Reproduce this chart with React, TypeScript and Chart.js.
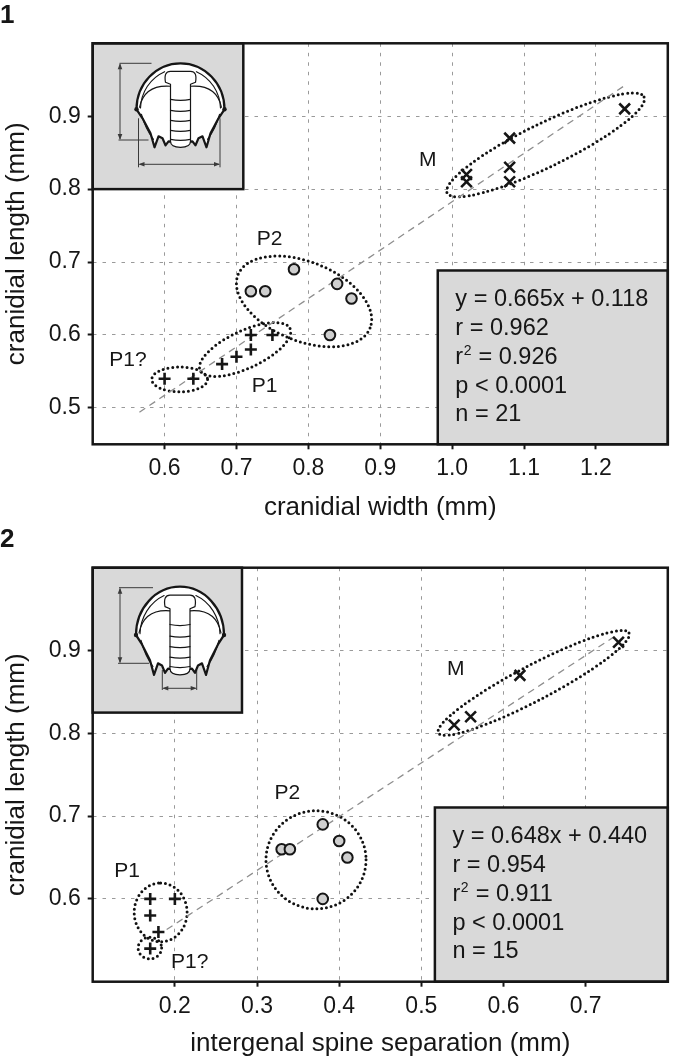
import React, { useEffect, useRef } from "react";
import { Chart, registerables } from "chart.js";

Chart.register(...registerables);

const FONT = "'Liberation Sans', Arial, Helvetica, sans-serif";
const INK = "#161616";
const GRID = "#9a9a9a";
const BOX_FILL = "#d9d9d9";

// ---------------- Panel 1 : cranidial width vs cranidial length ----------------
const p1qWidth1 = [0.6, 0.64];
const p1qLength1 = [0.54, 0.54];
const p1Width1 = [0.68, 0.7, 0.72, 0.72, 0.75];
const p1Length1 = [0.56, 0.57, 0.58, 0.6, 0.6];
const p2Width1 = [0.72, 0.74, 0.78, 0.84, 0.86, 0.83];
const p2Length1 = [0.66, 0.66, 0.69, 0.67, 0.65, 0.6];
const mWidth1 = [1.02, 1.02, 1.08, 1.08, 1.08, 1.24];
const mLength1 = [0.82, 0.81, 0.87, 0.83, 0.81, 0.91];
const fitX1 = [0.565, 1.243];
const fitY1 = [0.494, 0.944];
const xTicks1 = [0.6, 0.7, 0.8, 0.9, 1.0, 1.1, 1.2];
const yTicks1 = [0.5, 0.6, 0.7, 0.8, 0.9];
const stats1 = ["y = 0.665x + 0.118", "r = 0.962", "r² = 0.926", "p < 0.0001", "n = 21"];
const labelNames1 = ["M", "P2", "P1?", "P1"];
const labelX1 = [0.966, 0.746, 0.549, 0.739];
const labelY1 = [0.839, 0.731, 0.566, 0.529];

// ---------------- Panel 2 : intergenal spine separation vs cranidial length ----------------
const p1Sep2 = [0.17, 0.2, 0.17, 0.18];
const p1Length2 = [0.6, 0.6, 0.58, 0.56];
const p1qSep2 = [0.17];
const p1qLength2 = [0.54];
const p2Sep2 = [0.33, 0.34, 0.38, 0.4, 0.41, 0.38];
const p2Length2 = [0.66, 0.66, 0.69, 0.67, 0.65, 0.6];
const mSep2 = [0.54, 0.56, 0.62, 0.74];
const mLength2 = [0.81, 0.82, 0.87, 0.91];
const fitX2 = [0.19, 0.74];
const fitY2 = [0.563, 0.92];
const xTicks2 = [0.2, 0.3, 0.4, 0.5, 0.6, 0.7];
const yTicks2 = [0.6, 0.7, 0.8, 0.9];
const stats2 = ["y = 0.648x + 0.440", "r = 0.954", "r² = 0.911", "p < 0.0001", "n = 15"];
const labelNames2 = ["M", "P2", "P1", "P1?"];
const labelX2 = [0.542, 0.337, 0.142, 0.218];
const labelY2 = [0.877, 0.728, 0.634, 0.524];

type Style = "plus" | "x" | "circle";
type Group = { xs: number[]; ys: number[]; style: Style };
type Ell = { cx: number; cy: number; a: number; b: number; ang: number };
type Arrows = {
  vx: number; vy0: number; vy1: number;
  vExt: number[][]; // [x0, x1, y]
  hy: number; hx0: number; hx1: number;
  hExtY0: number; hExtY1: number;
};
type Panel = {
  number: string;
  xTitle: string;
  yTitle: string;
  xMin: number; xMax: number; yMin: number; yMax: number;
  xTicks: number[]; yTicks: number[];
  groups: Group[];
  fitX: number[]; fitY: number[];
  ellipses: Ell[];
  labels: { names: string[]; xs: number[]; ys: number[] };
  stats: string[];
  inset: { xRight: number; yBottom: number; cx: number; top: number; sy: number; arrows: Arrows };
  statsBox: { xLeft: number; yTop: number };
  layout: { height: number; top: number; right: number; yWidth: number; xHeight: number; xTitlePad: number; numY: number };
};

const panel1: Panel = {
  number: "1",
  xTitle: "cranidial width (mm)",
  yTitle: "cranidial length (mm)",
  xMin: 0.5, xMax: 1.3, yMin: 0.45, yMax: 1.0,
  xTicks: xTicks1, yTicks: yTicks1,
  groups: [
    { xs: p1qWidth1, ys: p1qLength1, style: "plus" },
    { xs: p1Width1, ys: p1Length1, style: "plus" },
    { xs: p2Width1, ys: p2Length1, style: "circle" },
    { xs: mWidth1, ys: mLength1, style: "x" },
  ],
  fitX: fitX1, fitY: fitY1,
  ellipses: [
    { cx: 0.621, cy: 0.539, a: 0.0388, b: 0.0172, ang: 0 },
    { cx: 0.712, cy: 0.58, a: 0.069, b: 0.026, ang: 25 },
    { cx: 0.794, cy: 0.646, a: 0.099, b: 0.055, ang: -22 },
    { cx: 1.13, cy: 0.8606, a: 0.1524, b: 0.0303, ang: 26 },
  ],
  labels: { names: labelNames1, xs: labelX1, ys: labelY1 },
  stats: stats1,
  inset: {
    xRight: 0.7095, yBottom: 0.8, cx: 87.8, top: 20, sy: 1.0,
    arrows: {
      vx: -60.5, vy0: 0, vy1: 76.7,
      vExt: [[-61, -29, 0], [-62, -32, 76.7]],
      hy: 101, hx0: -42, hx1: 39.5,
      hExtY0: 55, hExtY1: 104,
    },
  },
  statsBox: { xLeft: 0.98, yTop: 0.6884 },
  layout: { height: 524, top: 43.3, right: 2.7, yWidth: 92.7, xHeight: 79.7, xTitlePad: 0.1, numY: 23 },
};

const panel2: Panel = {
  number: "2",
  xTitle: "intergenal spine separation (mm)",
  yTitle: "cranidial length (mm)",
  xMin: 0.1, xMax: 0.8, yMin: 0.5, yMax: 1.0,
  xTicks: xTicks2, yTicks: yTicks2,
  groups: [
    { xs: p1Sep2, ys: p1Length2, style: "plus" },
    { xs: p1qSep2, ys: p1qLength2, style: "plus" },
    { xs: p2Sep2, ys: p2Length2, style: "circle" },
    { xs: mSep2, ys: mLength2, style: "x" },
  ],
  fitX: fitX2, fitY: fitY2,
  ellipses: [
    { cx: 0.1827, cy: 0.5837, a: 0.0358, b: 0.0322, ang: 90 },
    { cx: 0.1696, cy: 0.5407, a: 0.0143, b: 0.0131, ang: 0 },
    { cx: 0.3718, cy: 0.6472, a: 0.0609, b: 0.0597, ang: 0 },
    { cx: 0.6368, cy: 0.8608, a: 0.131, b: 0.0215, ang: 27.7 },
  ],
  labels: { names: labelNames2, xs: labelX2, ys: labelY2 },
  stats: stats2,
  inset: {
    xRight: 0.2817, yBottom: 0.825, cx: 87.3, top: 19, sy: 1.05,
    arrows: {
      vx: -60, vy0: 1, vy1: 76.6,
      vExt: [[-61, -27, 1], [-62, -31, 76.6]],
      hy: 101.6, hx0: -17.7, hx1: 16.7,
      hExtY0: 83.3, hExtY1: 103.3,
    },
  },
  statsBox: { xLeft: 0.5165, yTop: 0.7104 },
  layout: { height: 539, top: 43.7, right: 1.3, yWidth: 92.7, xHeight: 81.3, xTitlePad: 3.1, numY: 22.7 },
};

function arrowHead(ctx: CanvasRenderingContext2D, x: number, y: number, dx: number, dy: number) {
  const L = 6, W = 2.3;
  ctx.beginPath();
  ctx.moveTo(x, y);
  ctx.lineTo(x - dx * L - dy * W, y - dy * L + dx * W);
  ctx.lineTo(x - dx * L + dy * W, y - dy * L - dx * W);
  ctx.closePath();
  ctx.fill();
}

function drawCranidium(ctx: CanvasRenderingContext2D, cx: number, top: number, sy: number, ar: Arrows) {
  ctx.save();
  ctx.translate(cx, top);

  // dimension lines
  ctx.strokeStyle = "#3a3a3a";
  ctx.fillStyle = "#3a3a3a";
  ctx.lineWidth = 1;
  ctx.setLineDash([]);
  ctx.beginPath();
  ctx.moveTo(ar.vx, ar.vy0 + 1);
  ctx.lineTo(ar.vx, ar.vy1 - 1);
  for (const [x0, x1, y] of ar.vExt) {
    ctx.moveTo(x0, y);
    ctx.lineTo(x1, y);
  }
  ctx.moveTo(ar.hx0 + 1, ar.hy);
  ctx.lineTo(ar.hx1 - 1, ar.hy);
  ctx.moveTo(ar.hx0, ar.hExtY0);
  ctx.lineTo(ar.hx0, ar.hExtY1);
  ctx.moveTo(ar.hx1, ar.hExtY0);
  ctx.lineTo(ar.hx1, ar.hExtY1);
  ctx.stroke();
  arrowHead(ctx, ar.vx, ar.vy0, 0, -1);
  arrowHead(ctx, ar.vx, ar.vy1, 0, 1);
  arrowHead(ctx, ar.hx0, ar.hy, -1, 0);
  arrowHead(ctx, ar.hx1, ar.hy, 1, 0);

  // body
  ctx.scale(1, sy);
  ctx.lineJoin = "round";
  ctx.lineCap = "round";
  const post = [[44, 46], [38, 55], [30, 70], [26, 84], [22, 73], [18, 75], [15, 82], [12, 78], [0, 79]];
  const outline = new Path2D();
  outline.moveTo(-44, 46);
  outline.ellipse(0, 46, 44, 46, 0, Math.PI, 2 * Math.PI);
  for (const [x, y] of post.slice(1)) outline.lineTo(x, y);
  for (let i = post.length - 2; i >= 0; i--) outline.lineTo(-post[i][0], post[i][1]);
  outline.closePath();
  ctx.fillStyle = "#ffffff";
  ctx.fill(outline);
  ctx.strokeStyle = INK;
  ctx.lineWidth = 2.2;
  ctx.stroke(outline);

  // genal knobs
  ctx.fillStyle = INK;
  for (const s of [-1, 1]) {
    ctx.beginPath();
    ctx.arc(s * 44, 46, 2.2, 0, Math.PI * 2);
    ctx.fill();
  }

  // inner border furrow
  ctx.lineWidth = 1.1;
  ctx.beginPath();
  ctx.ellipse(0, 46, 40, 41, 0, Math.PI + 0.03, Math.PI * 1.37);
  ctx.stroke();
  ctx.beginPath();
  ctx.ellipse(0, 46, 40, 41, 0, Math.PI * 1.63, 2 * Math.PI - 0.03);
  ctx.stroke();

  // fixigenal lines
  for (const s of [-1, 1]) {
    ctx.beginPath();
    ctx.moveTo(s * 10, 23);
    ctx.quadraticCurveTo(s * 36, 21, s * 41, 44);
    ctx.stroke();
    ctx.beginPath();
    ctx.moveTo(s * 39, 51);
    ctx.quadraticCurveTo(s * 35, 66, s * 27, 76);
    ctx.stroke();
  }

  // glabella
  const g = new Path2D();
  g.moveTo(-10, 78);
  g.lineTo(-10, 21);
  g.lineTo(-15, 19);
  g.quadraticCurveTo(-17, 8, -10, 8);
  g.lineTo(10, 8);
  g.quadraticCurveTo(17, 8, 15, 19);
  g.lineTo(10, 21);
  g.lineTo(10, 78);
  g.quadraticCurveTo(10, 84, 0, 84);
  g.quadraticCurveTo(-10, 84, -10, 78);
  g.closePath();
  ctx.fillStyle = "#ffffff";
  ctx.fill(g);
  ctx.lineWidth = 1.2;
  ctx.stroke(g);
  ctx.beginPath();
  for (const y of [36, 47, 57, 67, 76]) {
    ctx.moveTo(-10, y);
    ctx.quadraticCurveTo(0, y + 2, 10, y);
  }
  ctx.stroke();
  ctx.restore();
}

function drawStatsLine(ctx: CanvasRenderingContext2D, text: string, x: number, y: number) {
  const parts = text.split("²");
  ctx.font = `23.5px ${FONT}`;
  ctx.fillText(parts[0], x, y);
  if (parts.length > 1) {
    let cx = x + ctx.measureText(parts[0]).width;
    ctx.font = `14px ${FONT}`;
    ctx.fillText("2", cx + 0.5, y - 9);
    cx += ctx.measureText("2").width + 1;
    ctx.font = `23.5px ${FONT}`;
    ctx.fillText(parts[1], cx, y);
  }
}

function makeDecor(p: Panel) {
  return {
    id: "decor" + p.number,
    beforeDatasetsDraw(chart: any) {
      const { ctx, chartArea: ca } = chart;
      const xs = chart.scales.x;
      const ys = chart.scales.y;
      const px = (v: number) => xs.getPixelForValue(v);
      const py = (v: number) => ys.getPixelForValue(v);
      ctx.save();
      ctx.setLineDash([]);

      // inset box with cranidium sketch
      const iR = px(p.inset.xRight);
      const iB = py(p.inset.yBottom);
      ctx.fillStyle = BOX_FILL;
      ctx.fillRect(ca.left, ca.top, iR - ca.left, iB - ca.top);
      drawCranidium(ctx, ca.left + p.inset.cx, ca.top + p.inset.top, p.inset.sy, p.inset.arrows);
      ctx.setLineDash([]);
      ctx.lineWidth = 2.5;
      ctx.strokeStyle = INK;
      ctx.strokeRect(ca.left, ca.top, iR - ca.left, iB - ca.top);

      // statistics box
      const sL = px(p.statsBox.xLeft);
      const sT = py(p.statsBox.yTop);
      ctx.fillStyle = BOX_FILL;
      ctx.fillRect(sL, sT, ca.right - sL, ca.bottom - sT);
      ctx.strokeRect(sL, sT, ca.right - sL, ca.bottom - sT);

      // dotted group ellipses
      const ppu = Math.abs(px(1) - px(0));
      ctx.strokeStyle = "#111";
      ctx.lineWidth = 3;
      ctx.lineCap = "round";
      ctx.setLineDash([0, 4.8]);
      for (const e of p.ellipses) {
        ctx.beginPath();
        ctx.ellipse(px(e.cx), py(e.cy), e.a * ppu, e.b * ppu, (-e.ang * Math.PI) / 180, 0, Math.PI * 2);
        ctx.stroke();
      }
      ctx.restore();
    },
    afterDraw(chart: any) {
      const { ctx, chartArea: ca } = chart;
      const xs = chart.scales.x;
      const ys = chart.scales.y;
      ctx.save();
      ctx.setLineDash([]);
      ctx.lineWidth = 2.5;
      ctx.strokeStyle = INK;
      ctx.strokeRect(ca.left, ca.top, ca.right - ca.left, ca.bottom - ca.top);

      // statistics text
      const sL = xs.getPixelForValue(p.statsBox.xLeft);
      const sT = ys.getPixelForValue(p.statsBox.yTop);
      ctx.fillStyle = INK;
      ctx.textAlign = "left";
      ctx.textBaseline = "alphabetic";
      p.stats.forEach((t, i) => drawStatsLine(ctx, t, sL + 17.6, sT + 35.7 + i * 28.8));

      // group labels
      ctx.font = `21px ${FONT}`;
      ctx.textAlign = "center";
      ctx.textBaseline = "middle";
      p.labels.names.forEach((n, i) => {
        ctx.fillText(n, xs.getPixelForValue(p.labels.xs[i]), ys.getPixelForValue(p.labels.ys[i]));
      });

      // panel number
      ctx.font = `bold 26px ${FONT}`;
      ctx.textAlign = "left";
      ctx.textBaseline = "alphabetic";
      ctx.fillText(p.number, 0, p.layout.numY);
      ctx.restore();
    },
  };
}

function buildChart(canvas: HTMLCanvasElement, p: Panel) {
  const styleOf = (s: Style) => {
    if (s === "plus") return { pointStyle: "cross", pointRadius: 6, pointBorderWidth: 2.6, pointBackgroundColor: INK };
    if (s === "x") return { pointStyle: "crossRot", pointRadius: 7.6, pointBorderWidth: 2.6, pointBackgroundColor: INK };
    return { pointStyle: "circle", pointRadius: 5.3, pointBorderWidth: 2, pointBackgroundColor: "#cfcfcf" };
  };
  const datasets: any[] = p.groups.map((g) => ({
    type: "scatter",
    data: g.xs.map((x, i) => ({ x, y: g.ys[i] })),
    pointBorderColor: INK,
    borderColor: INK,
    order: 0,
    ...styleOf(g.style),
  }));
  datasets.push({
    type: "line",
    data: p.fitX.map((x, i) => ({ x, y: p.fitY[i] })),
    borderColor: "#8e8e8e",
    borderWidth: 1.3,
    borderDash: [7, 5],
    pointRadius: 0,
    fill: false,
    tension: 0,
    order: 10,
  });

  const L = p.layout;
  const tickFont = { family: FONT, size: 23 };
  const titleFont = { family: FONT, size: 26 };
  const gridOpts = {
    color: GRID,
    lineWidth: 1,
    drawTicks: true,
    tickLength: 5,
    tickWidth: 2,
    tickColor: INK,
    tickBorderDash: [],
  };

  return new Chart(canvas, {
    type: "scatter",
    data: { datasets },
    options: {
      responsive: false,
      animation: false,
      events: [],
      layout: { padding: { left: 0, top: L.top, right: L.right, bottom: 0 } },
      plugins: { legend: { display: false }, tooltip: { enabled: false } },
      scales: {
        x: {
          type: "linear",
          min: p.xMin,
          max: p.xMax,
          afterBuildTicks: (s: any) => {
            s.ticks = p.xTicks.map((v) => ({ value: v }));
          },
          afterFit: (s: any) => {
            s.height = L.xHeight;
          },
          grid: gridOpts,
          border: { display: false, dash: [3.5, 6] },
          ticks: {
            color: INK,
            font: tickFont,
            padding: 6,
            maxRotation: 0,
            autoSkip: false,
            callback: (v: any) => Number(v).toFixed(1),
          },
          title: { display: true, text: p.xTitle, color: INK, font: titleFont, padding: { top: 0, bottom: L.xTitlePad } },
        },
        y: {
          type: "linear",
          min: p.yMin,
          max: p.yMax,
          afterBuildTicks: (s: any) => {
            s.ticks = p.yTicks.map((v) => ({ value: v }));
          },
          afterFit: (s: any) => {
            s.width = L.yWidth;
          },
          grid: gridOpts,
          border: { display: false, dash: [3.5, 6] },
          ticks: {
            color: INK,
            font: tickFont,
            padding: 7,
            autoSkip: false,
            callback: (v: any) => Number(v).toFixed(1),
          },
          title: { display: true, text: p.yTitle, color: INK, font: titleFont, padding: { top: 1.4, bottom: 0 } },
        },
      },
    } as any,
    plugins: [makeDecor(p)],
  } as any);
}

export default function App() {
  const ref1 = useRef<HTMLCanvasElement>(null);
  const ref2 = useRef<HTMLCanvasElement>(null);
  useEffect(() => {
    const c1 = buildChart(ref1.current as HTMLCanvasElement, panel1);
    const c2 = buildChart(ref2.current as HTMLCanvasElement, panel2);
    return () => {
      c1.destroy();
      c2.destroy();
    };
  }, []);
  return (
    <div style={{ position: "absolute", left: 0, top: 0, width: 678, height: 1063, background: "#ffffff" }}>
      <canvas ref={ref1} width={678} height={524} style={{ position: "absolute", left: 0, top: 0 }} />
      <canvas ref={ref2} width={678} height={539} style={{ position: "absolute", left: 0, top: 524 }} />
    </div>
  );
}
